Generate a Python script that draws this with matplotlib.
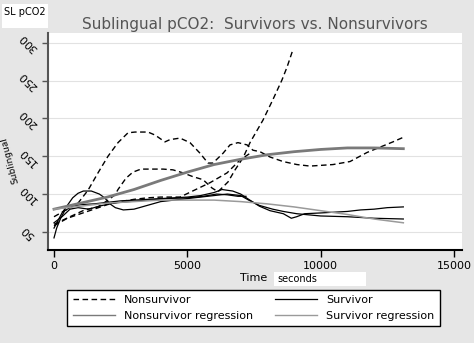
import matplotlib
matplotlib.use("Agg")
import matplotlib.pyplot as plt
from matplotlib.lines import Line2D

# ---------------- data ----------------
n1_t = [0, 400, 900, 1275, 1650, 2025, 2400, 2775, 3040, 3525, 3790, 4160, 4350, 4725, 5100,
        5475, 5775, 5960, 6340, 6600, 6900, 7240, 7460, 7725, 8100, 8590, 9110, 9600, 10460,
        11100, 11740, 12225, 12710, 13160]
n1_v = [70, 78, 88, 105, 128, 150, 168, 181, 182, 182, 178, 169, 172, 174, 168,
        154, 141, 141, 154, 165, 168, 165, 158, 156, 149, 143, 139, 137, 139,
        143, 155, 162, 169, 176]

n2_t = [0, 600, 1150, 1650, 2025, 2290, 2400, 2700, 2960, 3260, 3790, 4090, 4460, 4840, 5210,
        5590, 5925, 6150, 6525, 6790, 7090, 7350, 7840, 8210, 8550, 8740, 8960]
n2_v = [60, 70, 79, 83, 92, 99, 106, 121, 129, 133, 133, 133, 132, 128, 123,
        119, 108, 103, 116, 132, 148, 168, 198, 225, 251, 268, 291]

n3_t = [0, 500, 1000, 1500, 2000, 2500, 3000, 3500, 4000, 4725, 5850, 6490, 6975, 7400]
n3_v = [58, 68, 74, 80, 86, 90, 93, 95, 96, 96, 115, 128, 145, 155]

s1_t = [0, 150, 300, 500, 700, 900, 1100, 1400, 1700, 1900, 2100, 2300, 2600, 3000, 3500,
        4000, 4500, 5000, 5500, 6000, 6500, 7000, 7300, 7700, 8200, 8600, 9100, 10000,
        11000, 12000, 13100]
s1_v = [55, 65, 75, 85, 95, 101, 104, 104, 100, 95, 87, 82, 79, 80, 85,
        90, 92, 94, 96, 98, 100, 98, 92, 85, 80, 77, 74, 71,
        70, 68, 67]

s2_t = [0, 100, 250, 400, 700, 1000, 1500, 2000, 2500, 3000, 3500, 4000, 4500, 5000, 5500,
        6000, 6300, 6700, 7000, 7300, 7700, 8100, 8600, 8900, 9100, 9400, 10000, 10500,
        11000, 11500, 12000, 12500, 13100]
s2_v = [42, 55, 68, 78, 84, 86, 87, 89, 91, 92, 93, 94, 95, 96, 98,
        102, 106, 104, 100, 93, 84, 78, 74, 68, 70, 74, 75, 76,
        77, 79, 80, 82, 83]

s3_t = [0, 300, 600, 900, 1300, 1700, 2200, 2800, 3500, 4200, 5000, 5600, 6100, 6500, 6900, 7200]
s3_v = [62, 70, 80, 82, 80, 84, 88, 90, 92, 94, 95, 97, 100, 99, 97, 97]

nreg_t = [0, 1000, 2000, 3000, 4000, 5000, 6000, 7000, 8000, 9000, 10000, 11000, 12000, 13100]
nreg_v = [80, 88, 96, 106, 118, 129, 139, 146, 152, 156, 159, 161, 161, 160]

sreg_t = [0, 1000, 2000, 3000, 4000, 5000, 6000, 7000, 8000, 9000, 10000, 11000, 12000, 13100]
sreg_v = [80, 84, 88, 90, 92, 92, 92, 90, 87, 83, 78, 73, 67, 62]

x_ticks = [0, 5000, 10000, 15000]
y_ticks = [50, 100, 150, 200, 250, 300]

title = "Sublingual pCO2:  Survivors vs. Nonsurvivors"
# legend order: row 1 = Nonsurvivor, Survivor; row 2 = the regressions
legend_labels = ["Nonsurvivor", "Nonsurvivor regression", "Survivor", "Survivor regression"]

# ---------------- figure ----------------
W, H = 474, 343
fig = plt.figure(figsize=(W / 100, H / 100), dpi=100, facecolor="#e6e6e6")
ax = fig.add_axes([48 / W, 1 - 250 / H, (462 - 48) / W, (250 - 33) / H])
ax.set_facecolor("white")

dash = dict(color="black", lw=1.0, linestyle=(0, (4, 2.5)))
for t, v in [(n1_t, n1_v), (n2_t, n2_v), (n3_t, n3_v)]:
    ax.plot(t, v, **dash)
for t, v in [(s1_t, s1_v), (s2_t, s2_v), (s3_t, s3_v)]:
    ax.plot(t, v, color="black", lw=0.9)
ax.plot(nreg_t, nreg_v, color="#7a7a7a", lw=2.0)
ax.plot(sreg_t, sreg_v, color="#9a9a9a", lw=1.1)

ax.set_xlim(-225, 15300)
ax.set_ylim(26, 313)
ax.set_xticks(x_ticks)
ax.set_yticks(y_ticks)
ax.set_xticklabels([str(x) for x in x_ticks], fontsize=8)
ax.set_yticklabels([str(y) for y in y_ticks], fontsize=8, rotation=135,
                   ha="center", va="center")
ax.tick_params(axis="y", length=4, width=1, color="#555555", pad=10)
ax.tick_params(axis="x", length=5, width=1, color="black", pad=3)
ax.grid(axis="y", color="#e2e2e2", lw=0.8)
ax.set_axisbelow(True)
for s in ["top", "right"]:
    ax.spines[s].set_visible(False)
ax.spines["left"].set_color("#555555")
ax.spines["left"].set_linewidth(1.5)
ax.spines["bottom"].set_color("black")
ax.spines["bottom"].set_linewidth(1.5)

# title and labels
fig.text(255 / W, 1 - 25 / H, title, ha="center", va="center", fontsize=11, color="#555555")
fig.patches.append(plt.Rectangle((2 / W, 1 - 28 / H), 46 / W, 24 / H, transform=fig.transFigure,
                                 facecolor="white", edgecolor="none"))
fig.text(4 / W, 1 - 12 / H, "SL pCO2", ha="left", va="center", fontsize=7, color="black")
fig.text(16 / W, 1 - 183 / H, "Sublingual", rotation=105, rotation_mode="anchor",
         ha="left", va="center", fontsize=6.5, color="black")

fig.text(254 / W, 1 - 278 / H, "Time", ha="center", va="center", fontsize=8)
fig.patches.append(plt.Rectangle((274 / W, 1 - 286 / H), 92 / W, 14 / H, transform=fig.transFigure,
                                 facecolor="white", edgecolor="none"))
fig.text(277 / W, 1 - 279 / H, "seconds", ha="left", va="center", fontsize=7)

handles = [Line2D([], [], **dash),
           Line2D([], [], color="#7a7a7a", lw=1.0),
           Line2D([], [], color="black", lw=0.9),
           Line2D([], [], color="#9a9a9a", lw=1.0)]
leg = fig.legend(handles, legend_labels, ncol=2, loc="center",
                 bbox_to_anchor=(253.5 / W, 1 - 308 / H), fontsize=8,
                 frameon=True, fancybox=False, framealpha=1, edgecolor="black",
                 handlelength=3.8, columnspacing=2.0, handletextpad=0.8,
                 labelspacing=0.5, borderpad=0.5)
leg.get_frame().set_linewidth(1.0)

fig.savefig("out.png", dpi=100, facecolor=fig.get_facecolor())
